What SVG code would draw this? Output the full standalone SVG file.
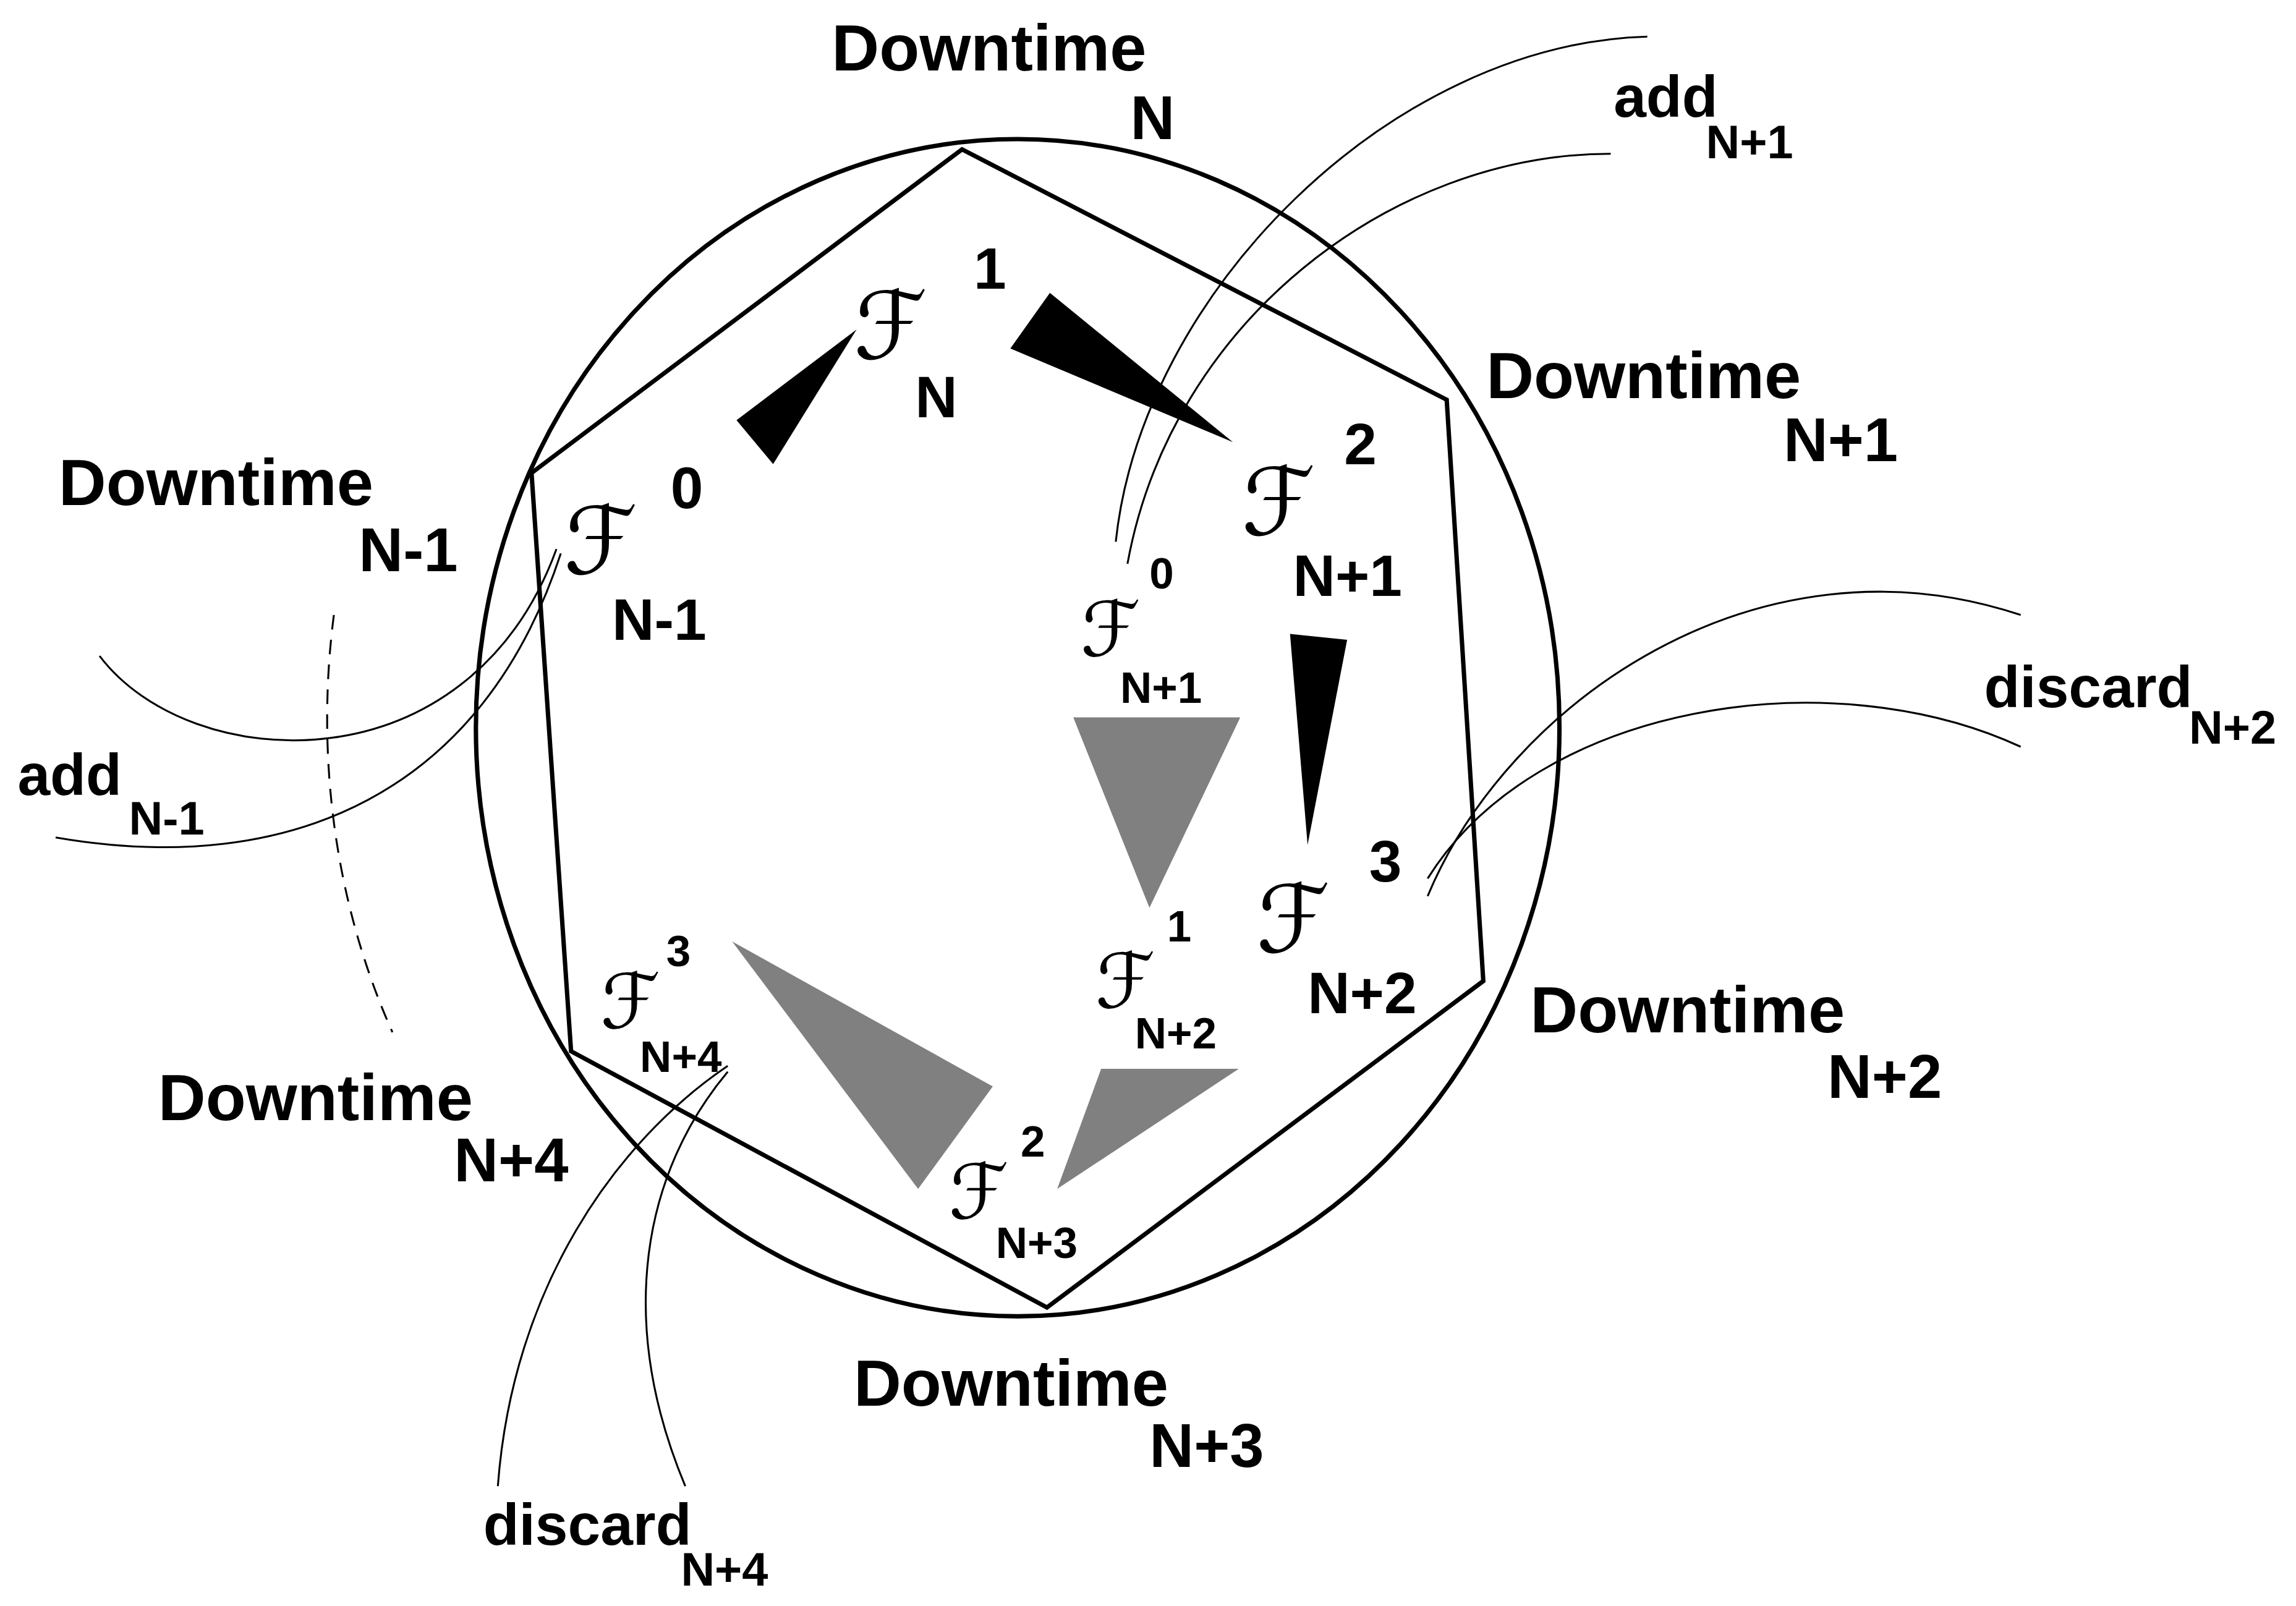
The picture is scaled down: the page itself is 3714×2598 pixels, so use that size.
<svg xmlns="http://www.w3.org/2000/svg" width="3714" height="2598" viewBox="0 0 3714 2598">
<style>
.t{font-family:"Liberation Sans",Arial,sans-serif;font-weight:bold;fill:#000}
.d{font-size:45px}.ds{font-size:42px}.a{font-size:40px}.as{font-size:32px}
.f{font-family:"DejaVu Sans","Noto Sans",sans-serif;font-style:italic;font-size:64px;fill:#000}
.fs{font-size:52px}
.sp{font-size:40px}.sps{font-size:30px}
.o{fill:none;stroke:#000;stroke-width:3}
.c{fill:none;stroke:#000;stroke-width:1.3}
</style>
<rect width="3714" height="2598" fill="#fff"/>
<g transform="scale(2.3686)">
<g id="frame">
<ellipse class="o" cx="695" cy="497" rx="370" ry="402"/>
<polygon class="o" points="657,102 988,273 1013,670 715,893 390,718 363,323"/>
</g>
<g id="connectors">
<path class="c" d="M762,370 C780,200 950,30 1125,25"/>
<path class="c" d="M770,385 C800,220 950,105 1100,105"/>
<path class="c" d="M975,612 C1030,480 1200,360 1380,420"/>
<path class="c" d="M975,600 C1050,480 1250,450 1380,510"/>
<path class="c" d="M68,448 C130,530 320,540 380,375"/>
<path class="c" d="M38,572 C200,600 330,540 383,378"/>
<path class="c" d="M228,420 C215,520 230,620 268,705" stroke-dasharray="10,7" stroke-width="2.5"/>
<path class="c" d="M497,728 C420,780 350,880 340,1015"/>
<path class="c" d="M497,732 C440,800 420,900 468,1015"/>
<polygon points="503,287 585,225 528,317" fill="#000"/>
<polygon points="690,238 717,200 842,302" fill="#000"/>
<polygon points="881,433 920,437 893,577" fill="#000"/>
<polygon points="733,490 847,490 785,620" fill="#808080"/>
<polygon points="500,643 678,742 627,812" fill="#808080"/>
<polygon points="752,730 846,730 722,812" fill="#808080"/>
</g>
<g id="downtimeN"><text class="t d" x="568" y="48">Downtime</text><text class="t ds" x="772" y="95">N</text></g>
<g id="downtimeN1"><text class="t d" x="1015" y="272">Downtime</text><text class="t ds" x="1218" y="315">N+1</text></g>
<g id="downtimeNm1"><text class="t d" x="40" y="345">Downtime</text><text class="t ds" x="245" y="390">N-1</text></g>
<g id="downtimeN2"><text class="t d" x="1045" y="705">Downtime</text><text class="t ds" x="1248" y="750">N+2</text></g>
<g id="downtimeN4"><text class="t d" x="108" y="765">Downtime</text><text class="t ds" x="310" y="807">N+4</text></g>
<g id="downtimeN3"><text class="t d" x="583" y="960">Downtime</text><text class="t ds" x="785" y="1002">N+3</text></g>
<g id="addN1"><text class="t a" x="1102" y="80">add</text><text class="t as" x="1165" y="108">N+1</text></g>
<g id="discardN2"><text class="t a" x="1355" y="483">discard</text><text class="t as" x="1495" y="508">N+2</text></g>
<g id="addNm1"><text class="t a" x="12" y="543">add</text><text class="t as" x="88" y="570">N-1</text></g>
<g id="discardN4"><text class="t a" x="330" y="1055">discard</text><text class="t as" x="465" y="1083">N+4</text></g>
<g id="FN1"><text class="f" x="583" y="245">ℱ</text><text class="t sp" x="665" y="197">1</text><text class="t sp" x="625" y="285">N</text></g>
<g id="FN12"><text class="f" x="848" y="365">ℱ</text><text class="t sp" x="918" y="317">2</text><text class="t sp" x="883" y="407">N+1</text></g>
<g id="FNm10"><text class="f" x="385" y="392">ℱ</text><text class="t sp" x="458" y="347">0</text><text class="t sp" x="418" y="437">N-1</text></g>
<g id="FN10"><text class="f fs" x="738" y="448">ℱ</text><text class="t sps" x="785" y="402">0</text><text class="t sps" x="765" y="480">N+1</text></g>
<g id="FN23"><text class="f" x="858" y="650">ℱ</text><text class="t sp" x="935" y="602">3</text><text class="t sp" x="893" y="692">N+2</text></g>
<g id="FN21"><text class="f fs" x="748" y="688">ℱ</text><text class="t sps" x="797" y="643">1</text><text class="t sps" x="775" y="716">N+2</text></g>
<g id="FN43"><text class="f fs" x="410" y="702">ℱ</text><text class="t sps" x="455" y="660">3</text><text class="t sps" x="437" y="732">N+4</text></g>
<g id="FN32"><text class="f fs" x="648" y="832">ℱ</text><text class="t sps" x="697" y="790">2</text><text class="t sps" x="680" y="859">N+3</text></g>
</g>
</svg>
